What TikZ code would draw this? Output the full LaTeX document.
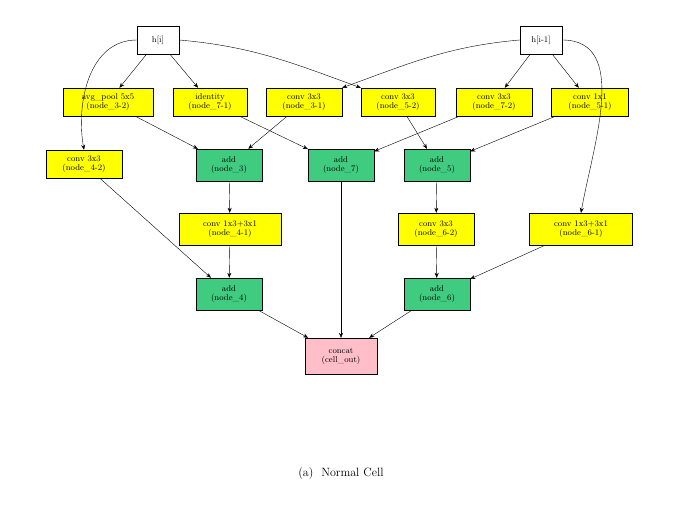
\documentclass[tikz,border=0pt]{standalone}
\usetikzlibrary{arrows.meta}
\definecolor{opyellow}{RGB}{255,255,0}
\definecolor{addgreen}{RGB}{64,204,128}
\definecolor{catpink}{RGB}{255,190,200}
\begin{document}
\begin{tikzpicture}[x=1pt,y=-1pt,
  box/.style={draw, inner sep=1.5pt, align=center, font=\fontsize{8.5}{9}\selectfont, minimum height=28pt},
  op/.style={box, fill=opyellow},
  add/.style={box, fill=addgreen, minimum width=66pt, minimum height=32pt},
  inp/.style={box, fill=white, minimum width=42pt},
  edge/.style={-{Stealth[length=5pt,width=4pt]}, thin}]
\useasboundingbox (0,0) rectangle (686,508);
\node[inp] (hi) at (158,40) {h[i]};
\node[inp] (hj) at (541,40) {h[i-1]};
\node[op, minimum width=90pt] (n32) at (108,102) {avg\_pool 5x5\\(node\_3-2)};
\node[op, minimum width=74pt] (n71) at (210,102) {identity\\(node\_7-1)};
\node[op, minimum width=76pt] (n31) at (304,102) {conv 3x3\\(node\_3-1)};
\node[op, minimum width=74pt] (n52) at (398,102) {conv 3x3\\(node\_5-2)};
\node[op, minimum width=76pt] (n72) at (494,102) {conv 3x3\\(node\_7-2)};
\node[op, minimum width=77pt] (n51) at (590,102) {conv 1x1\\(node\_5-1)};
\node[op, minimum width=76pt] (n42) at (84,164) {conv 3x3\\(node\_4-2)};
\node[add] (a3) at (229,165) {add\\(node\_3)};
\node[add] (a7) at (341,165) {add\\(node\_7)};
\node[add] (a5) at (437,165) {add\\(node\_5)};
\node[op, minimum width=102pt, minimum height=32pt] (n41) at (230,229) {conv 1x3+3x1\\(node\_4-1)};
\node[op, minimum width=76pt, minimum height=32pt] (n62) at (436,229) {conv 3x3\\(node\_6-2)};
\node[op, minimum width=103pt, minimum height=32pt] (n61) at (581,229) {conv 1x3+3x1\\(node\_6-1)};
\node[add] (a4) at (229,294) {add\\(node\_4)};
\node[add] (a6) at (437,294) {add\\(node\_6)};
\node[box, fill=catpink, minimum width=72pt, minimum height=36pt] (co) at (341,356) {concat\\(cell\_out)};
\node[font=\fontsize{12}{14}\selectfont] (cap) at (341,474) {(a)\ \ Normal Cell};
\draw[edge] (hi) -- (n32);
\draw[edge] (hi) -- (n71);
\draw[edge] (hi.east) to[out=-5,in=160] (n52.north west);
\draw[edge] (hi.west) to[out=180,in=100] (n42.north);
\draw[edge] (hj.west) to[out=185,in=20] (n31.north east);
\draw[edge] (hj) -- (n72);
\draw[edge] (hj) -- (n51);
\draw[edge] (hj.east) to[out=0,in=80] (n61.north);
\draw[edge] (n32) -- (a3);
\draw[edge] (n31) -- (a3);
\draw[edge] (n71) -- (a7);
\draw[edge] (n72) -- (a7);
\draw[edge] (n52) -- (a5);
\draw[edge] (n51) -- (a5);
\draw[edge] (a3) -- (n41);
\draw[edge] (n41) -- (a4);
\draw[edge] (n42) -- (a4);
\draw[edge] (a5) -- (n62);
\draw[edge] (n62) -- (a6);
\draw[edge] (n61) -- (a6);
\draw[edge] (a4) -- (co);
\draw[edge] (a7) -- (co);
\draw[edge] (a6) -- (co);
\end{tikzpicture}
\end{document}
